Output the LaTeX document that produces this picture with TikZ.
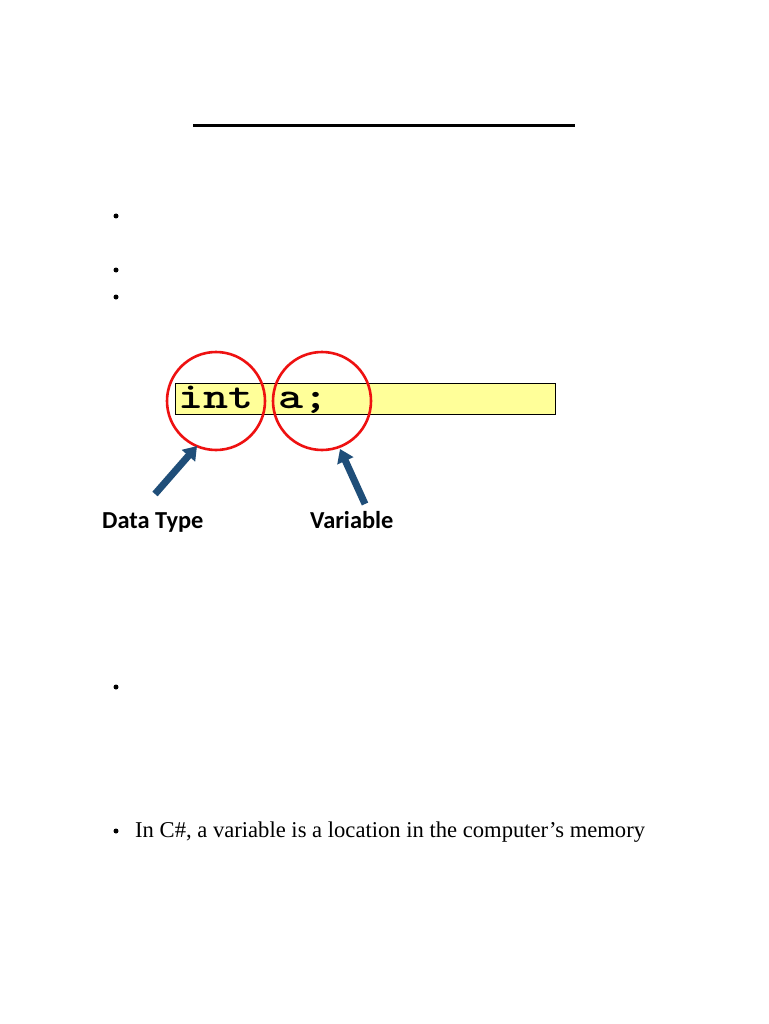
\documentclass[tikz,border=0pt]{standalone}
\usepackage{graphicx}
\usepackage{fontspec}
\setmainfont{Liberation Serif}
\newfontfamily\labelfont{Carlito}
\usetikzlibrary{arrows.meta}
\definecolor{codeyellow}{HTML}{FFFF99}
\definecolor{ringred}{HTML}{EE1111}
\definecolor{arrowblue}{HTML}{1F4E79}
\tikzset{
  bulletdot/.style={circle,fill=black,inner sep=0pt,minimum size=5pt},
  ring/.style={circle,draw=ringred,line width=2.6pt,minimum size=98pt,inner sep=0pt},
  pointer/.style={draw=arrowblue,line width=7pt,-{Triangle[width=17pt,length=13pt]}},
  lbl/.style={font=\labelfont\bfseries\fontsize{24.4}{26}\selectfont,inner sep=0pt},
}
\begin{document}
\begin{tikzpicture}[x=1pt,y=-1pt]
\useasboundingbox (0,0) rectangle (768,1024);
\fill[white] (0,0) rectangle (768,1024);
% title rule
\coordinate (r1) at (193,126);
\coordinate (r2) at (575,126);
\draw[line width=3pt] (r1) -- (r2);
% bullets
\node[bulletdot] (b1) at (116,216) {};
\node[bulletdot] (b2) at (116,270) {};
\node[bulletdot] (b3) at (116,297) {};
\node[bulletdot] (b4) at (116,687) {};
\node[bulletdot] (b5) at (116,831) {};
% code box
\node[draw=black,line width=0.8pt,fill=codeyellow,inner sep=0pt,minimum width=380pt,minimum height=31pt,anchor=north west] (box) at (175,383) {};
\node[anchor=base west,inner sep=0pt,font=\ttfamily\bfseries\fontsize{37}{37}\selectfont] (code) at (178,408) {\scalebox{1.29}[1]{int a;}};
% rings
\node[ring] (ringL) at (216,401) {};
\node[ring] (ringR) at (322,401) {};
% arrows
\coordinate (aL1) at (155,494);
\coordinate (aL2) at (197,446);
\coordinate (aR1) at (365,504);
\coordinate (aR2) at (340,449);
\draw[pointer] (aL1) -- (aL2);
\draw[pointer] (aR1) -- (aR2);
% labels
\node[lbl,anchor=base west] (dt) at (102,528) {Data Type};
\node[lbl,anchor=base west] (var) at (310,528) {Variable};
% text
\node[anchor=base west,inner sep=0pt,font=\fontsize{22.6}{25}\selectfont] (t5) at (135,837) {In C\#, a variable is a location in the computer’s memory};
\end{tikzpicture}
\end{document}
